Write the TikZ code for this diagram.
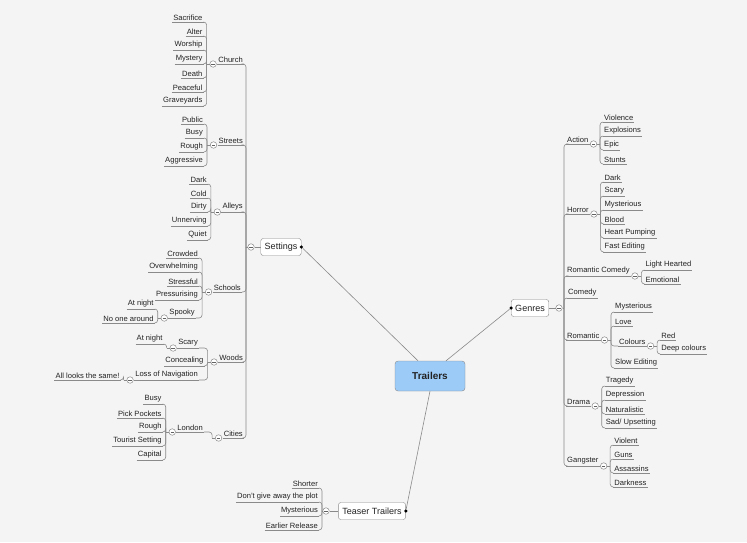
\documentclass[tikz,border=0pt]{standalone}
\usepackage{fontspec}
\setmainfont{Liberation Sans}
\definecolor{ln}{HTML}{8A8A8A}
\definecolor{tx}{HTML}{222222}
\definecolor{bg}{HTML}{F4F4F4}
\definecolor{tb}{HTML}{9CCBF8}
\tikzset{
 lbl/.style={font=\fontsize{7.6}{9}\selectfont,text=tx,inner xsep=1pt,inner ysep=1.6pt},
 ul/.style={draw=ln,line width=0.6pt},
 conn/.style={draw=ln,line width=0.6pt,rounded corners=3pt},
 circ/.style={circle,draw=ln,fill=white,minimum size=6.5pt,inner sep=0pt,line width=0.5pt},
 minus/.style={draw=ln!70!black,line width=0.5pt},
 box/.style={draw=ln,fill=white,rounded corners=2.5pt,font=\fontsize{9}{11}\selectfont,text=tx,minimum height=17pt,inner xsep=4pt},
 dotc/.style={circle,fill=black,inner sep=0pt,minimum size=3.5pt}
}
\newcommand\MkCirc[2]{\node[circ] (#1c) at (#2) {};
 \draw[minus] ([xshift=-1.7pt]#1c.center) -- ([xshift=1.7pt]#1c.center);}
% left parent: name xr y text parent
\newcommand\LP[5]{\node[lbl,anchor=south east] (#1) at (#2,#3) {#4};
 \draw[ul] (#1.south west) -- (#1.south east);
 \MkCirc{#1}{[xshift=-4pt]#1.south west}
 \coordinate (#1s) at ([xshift=-3pt]#1c.west);
 \draw[conn] (#1c.west) -- (#1s);
 \draw[conn] (#1.south east) -| (#5s);}
% left leaf: name parent y text
\newcommand\LL[4]{\coordinate (tmpx) at ([xshift=-3pt]#2s); \coordinate (tmpy) at (0,#3);
 \node[lbl,anchor=south east] (#1) at (tmpx |- tmpy) {#4};
 \draw[ul] (#1.south west) -- (#1.south east);
 \draw[conn] (#1.south east) -| (#2s);}
\newcommand\RP[5]{\node[lbl,anchor=south west] (#1) at (#2,#3) {#4};
 \draw[ul] (#1.south west) -- (#1.south east);
 \MkCirc{#1}{[xshift=4pt]#1.south east}
 \coordinate (#1s) at ([xshift=3pt]#1c.east);
 \draw[conn] (#1c.east) -- (#1s);
 \draw[conn] (#1.south west) -| (#5s);}
\newcommand\RL[4]{\coordinate (tmpx) at ([xshift=3pt]#2s); \coordinate (tmpy) at (0,#3);
 \node[lbl,anchor=south west] (#1) at (tmpx |- tmpy) {#4};
 \draw[ul] (#1.south west) -- (#1.south east);
 \draw[conn] (#1.south west) -| (#2s);}
\begin{document}
\begin{tikzpicture}[x=1pt,y=-1pt]
\fill[bg] (0,0) rectangle (747,542);
\useasboundingbox (0,0) rectangle (747,542);
% central
\node[draw=ln,fill=tb,rounded corners=3pt,minimum width=70pt,minimum height=30pt,font=\bfseries\fontsize{10}{12}\selectfont,text=tx] (tr) at (430,376) {Trailers};
% Settings
\node[box] (set) at (281,247) {Settings};
\MkCirc{set}{251,247}
\coordinate (sets) at (246,247);
\draw[conn] (set.west) -- (setc.east); \draw[conn] (setc.west) -- (sets);
\node[dotc] (setd) at (set.east) {};
\draw[ln,line width=0.6pt] ([xshift=-12pt]tr.north) -- (setd);
% Genres
\node[box] (gen) at (530,308) {Genres};
\MkCirc{gen}{559,308}
\coordinate (gens) at (564,308);
\draw[conn] (gen.east) -- (genc.west); \draw[conn] (genc.east) -- (gens);
\node[dotc] (gend) at (gen.west) {};
\draw[ln,line width=0.6pt] ([xshift=16pt]tr.north) -- (gend);
% Teaser
\node[box] (teas) at (372,511) {Teaser Trailers};
\MkCirc{teas}{326,511}
\coordinate (teass) at (322,511);
\draw[conn] (teas.west) -- (teasc.east); \draw[conn] (teasc.west) -- (teass);
\node[dotc] (teasd) at (teas.east) {};
\draw[ln,line width=0.6pt] (tr.south) -- (teasd);
% Church
\LP{ch}{244}{64}{Church}{set}
\LL{ch1}{ch}{22}{Sacrifice}\LL{ch2}{ch}{36}{Alter}\LL{ch3}{ch}{50}{Worship}
\LL{ch4}{ch}{64}{Mystery}\LL{ch5}{ch}{78}{Death}\LL{ch6}{ch}{92}{Peaceful}\LL{ch7}{ch}{106}{Graveyards}
\LP{st}{244}{145}{Streets}{set}
\LL{st1}{st}{124}{Public}\LL{st2}{st}{138}{Busy}\LL{st3}{st}{152}{Rough}\LL{st4}{st}{166}{Aggressive}
\LP{al}{244}{212}{Alleys}{set}
\LL{al1}{al}{184}{Dark}\LL{al2}{al}{198}{Cold}\LL{al3}{al}{212}{Dirty}\LL{al4}{al}{226}{Unnerving}\LL{al5}{al}{240}{Quiet}
\LP{sc}{242}{292}{Schools}{set}
\LL{sc1}{sc}{258}{Crowded}\LL{sc2}{sc}{272}{Overwhelming}\LL{sc3}{sc}{286}{Stressful}\LL{sc4}{sc}{300}{Pressurising}
\LP{sp}{196}{318}{Spooky}{sc}
\LL{sp1}{sp}{309}{At night}\LL{sp2}{sp}{323}{No one around}
\LP{wo}{244}{362}{Woods}{set}
\LP{wa}{199}{348}{Scary}{wo}
\LL{wa1}{wa}{344}{At night}
\LL{wb}{wo}{366}{Concealing}
\LP{wc}{199}{380}{Loss of Navigation}{wo}
\LL{wc1}{wc}{380}{All looks the same!}
\LP{ci}{244}{438}{Cities}{set}
\LP{lo}{204}{432}{London}{ci}
\LL{lo1}{lo}{404}{Busy}\LL{lo2}{lo}{418}{Pick Pockets}\LL{lo3}{lo}{432}{Rough}\LL{lo4}{lo}{446}{Tourist Setting}\LL{lo5}{lo}{460}{Capital}
% Teaser leaves
\LL{te1}{teas}{488}{Shorter}\LL{te2}{teas}{502}{Don't give away the plot}\LL{te3}{teas}{516}{Mysterious}\LL{te4}{teas}{530}{Earlier Release}
% Genres
\RP{ac}{566}{144}{Action}{gen}
\RL{ac1}{ac}{122}{Violence}\RL{ac2}{ac}{136}{Explosions}\RL{ac3}{ac}{150}{Epic}\RL{ac4}{ac}{164}{Stunts}
\RP{ho}{566}{214}{Horror}{gen}
\RL{ho1}{ho}{182}{Dark}\RL{ho2}{ho}{196}{Scary}\RL{ho3}{ho}{210}{Mysterious}\RL{ho4}{ho}{224}{Blood}\RL{ho5}{ho}{238}{Heart Pumping}\RL{ho6}{ho}{252}{Fast Editing}
\RP{rc}{566}{276}{Romantic Comedy}{gen}
\RL{rc1}{rc}{270}{Light Hearted}\RL{rc2}{rc}{284}{Emotional}
\RL{co}{gen}{298}{Comedy}
\RP{ro}{566}{340}{Romantic}{gen}
\RL{ro1}{ro}{312}{Mysterious}\RL{ro2}{ro}{326}{Love}
\RP{cl}{618}{346}{Colours}{ro}
\RL{cl1}{cl}{340}{Red}\RL{cl2}{cl}{354}{Deep colours}
\RL{ro3}{ro}{368}{Slow Editing}
\RP{dr}{566}{406}{Drama}{gen}
\RL{dr1}{dr}{386}{Tragedy}\RL{dr2}{dr}{400}{Depression}\RL{dr3}{dr}{414}{Naturalistic}\RL{dr4}{dr}{428}{Sad/ Upsetting}
\RP{ga}{566}{466}{Gangster}{gen}
\RL{ga1}{ga}{445}{Violent}\RL{ga2}{ga}{459}{Guns}\RL{ga3}{ga}{473}{Assassins}\RL{ga4}{ga}{487}{Darkness}
\end{tikzpicture}
\end{document}
